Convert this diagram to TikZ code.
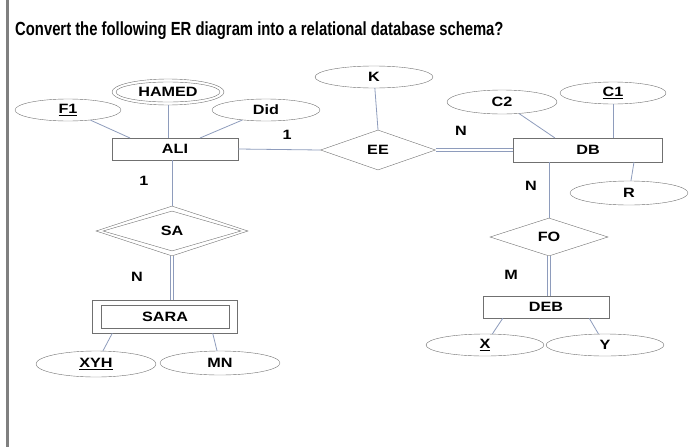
\documentclass[tikz,border=0pt]{standalone}
\usepackage{fontspec}
\setmainfont{Liberation Sans}[FakeStretch=1.2]
\usetikzlibrary{shapes.geometric}
\definecolor{ln}{HTML}{8E9CBC}
\definecolor{bd}{HTML}{707070}
\begin{document}
\begin{tikzpicture}[x=1pt,y=-1pt,
  lab/.style={font=\bfseries\fontsize{13.5}{13.5}\selectfont},
  attr/.style={ellipse,draw=bd,lab,inner sep=0,minimum height=22,minimum width=108},
  ent/.style={rectangle,draw=bd,lab,inner sep=0,minimum height=22},
  rel/.style={diamond,draw=bd,lab,inner sep=0,aspect=3},
  cn/.style={draw=ln,line width=0.8pt},
  dbl/.style={draw=ln,double=white,double distance=2.5pt,line width=0.8pt}]
\useasboundingbox (0,0) rectangle (700,447);
\draw[gray,line width=2.5pt] (7.5,0) -- (7.5,447);
\node[anchor=west,inner sep=0] (title) at (15,31) {\fontspec{Liberation Sans}[FakeStretch=0.78]\bfseries\fontsize{19}{19}\selectfont Convert the following ER diagram into a relational database schema?};
% entities
\node[ent,minimum width=126] (ali) at (175,149) {ALI};
\node[ent,minimum width=149,minimum height=24] (db) at (588,150) {DB};
\node[ent,minimum width=126] (deb) at (546,307) {DEB};
\node[ent,minimum width=145,minimum height=33] (sara) at (165,316.5) {};
\node[ent,minimum width=128,minimum height=23] (sarai) at (165,316.5) {SARA};
% relationships
\node[rel,minimum width=115,minimum height=40] (ee) at (378,150) {EE};
\node[rel,minimum width=118,minimum height=38] (fo) at (549,237) {FO};
\node[rel,minimum width=152,minimum height=50] (sa) at (172,231) {};
\node[rel,minimum width=138,minimum height=40] (sai) at (172,231) {SA};
% attributes
\node[attr,minimum width=112,minimum height=26] (hamed) at (168,92) {};
\node[attr,minimum width=104,minimum height=20] (hamedi) at (168,92) {HAMED};
\node[attr,minimum width=106] (f1) at (68,110) {\underline{F1}};
\node[attr] (did) at (266,110) {Did};
\node[attr,minimum width=118] (k) at (374,77) {K};
\node[attr,minimum width=110,minimum height=24] (c2) at (502,102) {C2};
\node[attr,minimum width=106] (c1) at (613,93) {\underline{C1}};
\node[attr,minimum width=118,minimum height=24] (r) at (629,193) {R};
\node[attr,minimum width=118] (x) at (485,345) {\underline{X}};
\node[attr,minimum width=118] (y) at (605,345) {Y};
\node[attr,minimum width=120,minimum height=26] (xyh) at (96,364) {\underline{XYH}};
\node[attr,minimum width=120,minimum height=24] (mn) at (220,363) {MN};
% connectors
\coordinate (ali1) at (130,138); \coordinate (ali2) at (200,138);
\draw[cn] (f1) -- (ali1);
\draw[cn] (did) -- (ali2);
\draw[cn] (hamed.south) -- (hamed.south |- ali.north);
\draw[cn] (ali.east) -- (ee.west);
\draw[cn] (k) -- (ee.north);
\draw[dbl] (ee.east) -- (db.west);
\coordinate (db1) at (555,138); \coordinate (db2) at (622,138); \coordinate (db3) at (634,162);
\draw[cn] (c2) -- (db1);
\draw[cn] (c1.south) -- (c1.south |- db.north);
\draw[cn] (db3) -- (r);
\draw[cn] (fo.north |- db.south) -- (fo.north);
\draw[dbl] (fo.south) -- (fo.south |- deb.north);
\draw[cn] (deb.south west) ++(20,0) -- (x);
\draw[cn] (deb.south east) ++(-20,0) -- (y);
\draw[cn] (sa.north |- ali.south) -- (sa.north);
\draw[dbl] (sa.south) -- (sa.south |- sara.north);
\draw[cn] (sara.south west) ++(20,0) -- (xyh);
\draw[cn] (sara.south east) ++(-25,0) -- (mn);
% cardinalities
\node[lab] (c_a) at (287,135) {1};
\node[lab] (c_b) at (144,181) {1};
\node[lab] (c_c) at (461,131) {N};
\node[lab] (c_d) at (531,186) {N};
\node[lab] (c_e) at (511,275) {M};
\node[lab] (c_f) at (137,277) {N};
\end{tikzpicture}
\end{document}
